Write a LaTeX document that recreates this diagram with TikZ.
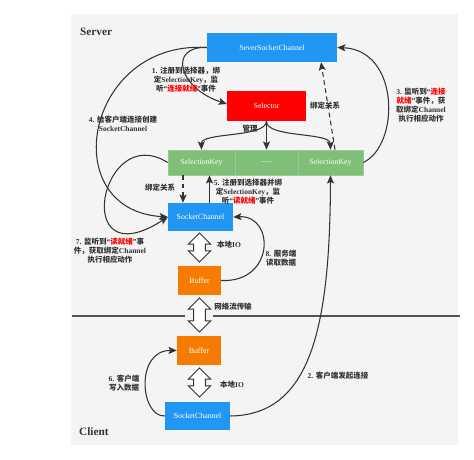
\documentclass[tikz,border=0pt]{standalone}
\usepackage{fontspec}
\setmainfont{Liberation Serif}
\newfontfamily\cjk{Noto Sans CJK SC}
\usetikzlibrary{arrows.meta,calc,shapes.arrows}

\definecolor{fond}{HTML}{F4F4F4}
\definecolor{bleu}{HTML}{2196F3}
\definecolor{rouge}{HTML}{FF0000}
\definecolor{vert}{HTML}{80BF78}
\definecolor{vertclair}{HTML}{9ACD93}
\definecolor{orange}{HTML}{F57C00}
\definecolor{trait}{HTML}{333333}

\newcommand\zh[1]{{\cjk#1}}
\newcommand\hl[1]{\textcolor{rouge}{#1}}

\tikzset{
  boite/.style={inner sep=0pt, text=white, font=\fontsize{6.7}{8}\selectfont},
  cle/.style={boite, fill=vert, draw=vertclair, line width=0.6pt,
              minimum height=0.75cm},
  etiq/.style={align=center, text=trait, inner sep=1pt,
               font=\fontsize{6.4}{7.7}\selectfont\bfseries},
  titre/.style={anchor=west, text=trait, inner sep=0pt,
                font=\fontsize{9.6}{11}\selectfont\bfseries},
  fleche/.style={-{Stealth[length=7pt,width=6pt,inset=1.5pt]},
                 line width=0.9pt, draw=trait},
  lien/.style={fleche, dash pattern=on 4pt off 3pt},
  doublefl/.style={double arrow, draw=trait, fill=white, line width=0.8pt,
                   inner sep=0.16cm, double arrow head extend=0.16cm,
                   shape border rotate=90}
}

\begin{document}
\begin{tikzpicture}[x=0.03cm, y=-0.03cm]

% --- Cadre ---
\useasboundingbox (0,0) rectangle (474,460);
\fill[fond] (71,14) rectangle (458,445);
\draw[trait!85, line width=1pt] (72,316) -- (185,316);
\draw[trait!85, line width=1pt] (213,316) -- (460,316);

\node[titre] (tserver) at (80,32)  {Server};
\node[titre] (tclient) at (79,432) {Client};

% --- Cote serveur ---
\node[boite, fill=bleu, minimum width=3.9cm, minimum height=0.87cm]
  (ssc) at (272,47.5) {SeverSocketChannel};
\node[boite, fill=rouge, minimum width=2.37cm, minimum height=0.9cm]
  (sel) at (266.5,106) {Selector};
\node[cle, minimum width=2.01cm] (key1) at (201.5,162.5) {SelectionKey};
\node[cle, minimum width=1.89cm] (key2) at (266.5,162.5) {......};
\node[cle, minimum width=1.95cm] (key3) at (330.5,162.5) {SelectionKey};
\node[boite, fill=bleu, minimum width=1.95cm, minimum height=0.84cm]
  (sc) at (200.5,217) {SocketChannel};
\node[boite, fill=orange, minimum width=1.29cm, minimum height=0.87cm]
  (buf) at (199.5,280.5) {Buffer};

% --- Cote client ---
\node[boite, fill=orange, minimum width=1.32cm, minimum height=0.87cm]
  (cbuf) at (199,350.5) {Buffer};
\node[boite, fill=bleu, minimum width=1.95cm, minimum height=0.84cm]
  (csc) at (197.5,416) {SocketChannel};

% --- Fleches doubles ---
\node[doublefl, minimum height=0.87cm] (io1) at (199.5,247.5) {};
\node[doublefl, minimum height=1.02cm] (net) at (199.5,315) {};
\node[doublefl, minimum height=0.87cm] (io2) at (199.5,382.5) {};

% --- Liaisons ---
\draw[fleche] (ssc.west) .. controls (168,46) and (178,88) .. (sel.177);
\draw[fleche] (ssc.west) .. controls (85,40) and (55,210) .. (sc.west);
\draw[fleche] (key1.west) .. controls (100,120) and (70,280) .. (sc.west);
\draw[fleche] (key3.east) .. controls (400,145) and (400,50) .. (ssc.east);
\draw[fleche] (csc.east) .. controls (310,415) and (330,330) .. (key3.south);
\draw[fleche] (sel.south) .. controls (266,138) and (201,132) .. (key1.north);
\draw[fleche] (sel.south) -- (key2.north);
\draw[fleche] (sel.south) .. controls (266,138) and (330,132) .. (key3.north);
\draw[lien] ($(key3.north)+(4.5,0)$) -- ($(ssc.south)+(49,0)$);
\draw[lien] ($(key1.south)+(-18.5,0)$) -- ($(sc.north)+(-17.5,0)$);
\draw[fleche] ($(sc.north)+(9,0)$) -- ($(key1.south)+(8,0)$);
\draw[fleche] (buf.east) .. controls (275,283) and (275,215) .. (sc.east);
\draw[fleche] (csc.west) .. controls (140,417) and (135,350) .. (cbuf.west);

% --- Etiquettes ---
\node[etiq] (t1) at (186,80)
  {1. \zh{注册到选择器，绑}\\\zh{定}SelectionKey\zh{，监}\\\zh{听}“\zh{\hl{连接就绪}}”\zh{事件}};
\node[etiq] (tgestion) at (250,129) {\zh{管理}};
\node[etiq] (tlien1) at (325,106) {\zh{绑定关系}};
\node[etiq] (t3) at (421,105)
  {3. \zh{监听到}“\zh{\hl{连接}}\\\zh{\hl{就绪}}”\zh{事件，获}\\\zh{取绑定}Channel\\\zh{执行相应动作}};
\node[etiq] (t4) at (123,124) {4. \zh{给客户端连接创建}\\SocketChannel};
\node[etiq] (tlien2) at (160,188) {\zh{绑定关系}};
\node[etiq] (t5) at (248,192)
  {5. \zh{注册到选择器并绑}\\\zh{定}SelectionKey\zh{，监}\\\zh{听}“\zh{\hl{读就绪}}”\zh{事件}};
\node[etiq] (t7) at (110,251)
  {7. \zh{监听到}“\zh{\hl{读就绪}}”\zh{事}\\\zh{件，获取绑定}Channel\\\zh{执行相应动作}};
\node[etiq] (tio1) at (229,245) {\zh{本地}IO};
\node[etiq] (t8) at (281,258) {8. \zh{服务端}\\\zh{读取数据}};
\node[etiq] (tnet) at (233,307) {\zh{网络流传输}};
\node[etiq] (t6) at (124,383) {6. \zh{客户端}\\\zh{写入数据}};
\node[etiq] (tio2) at (232,385) {\zh{本地}IO};
\node[etiq] (t2) at (338,376) {2. \zh{客户端发起连接}};

\end{tikzpicture}
\end{document}
